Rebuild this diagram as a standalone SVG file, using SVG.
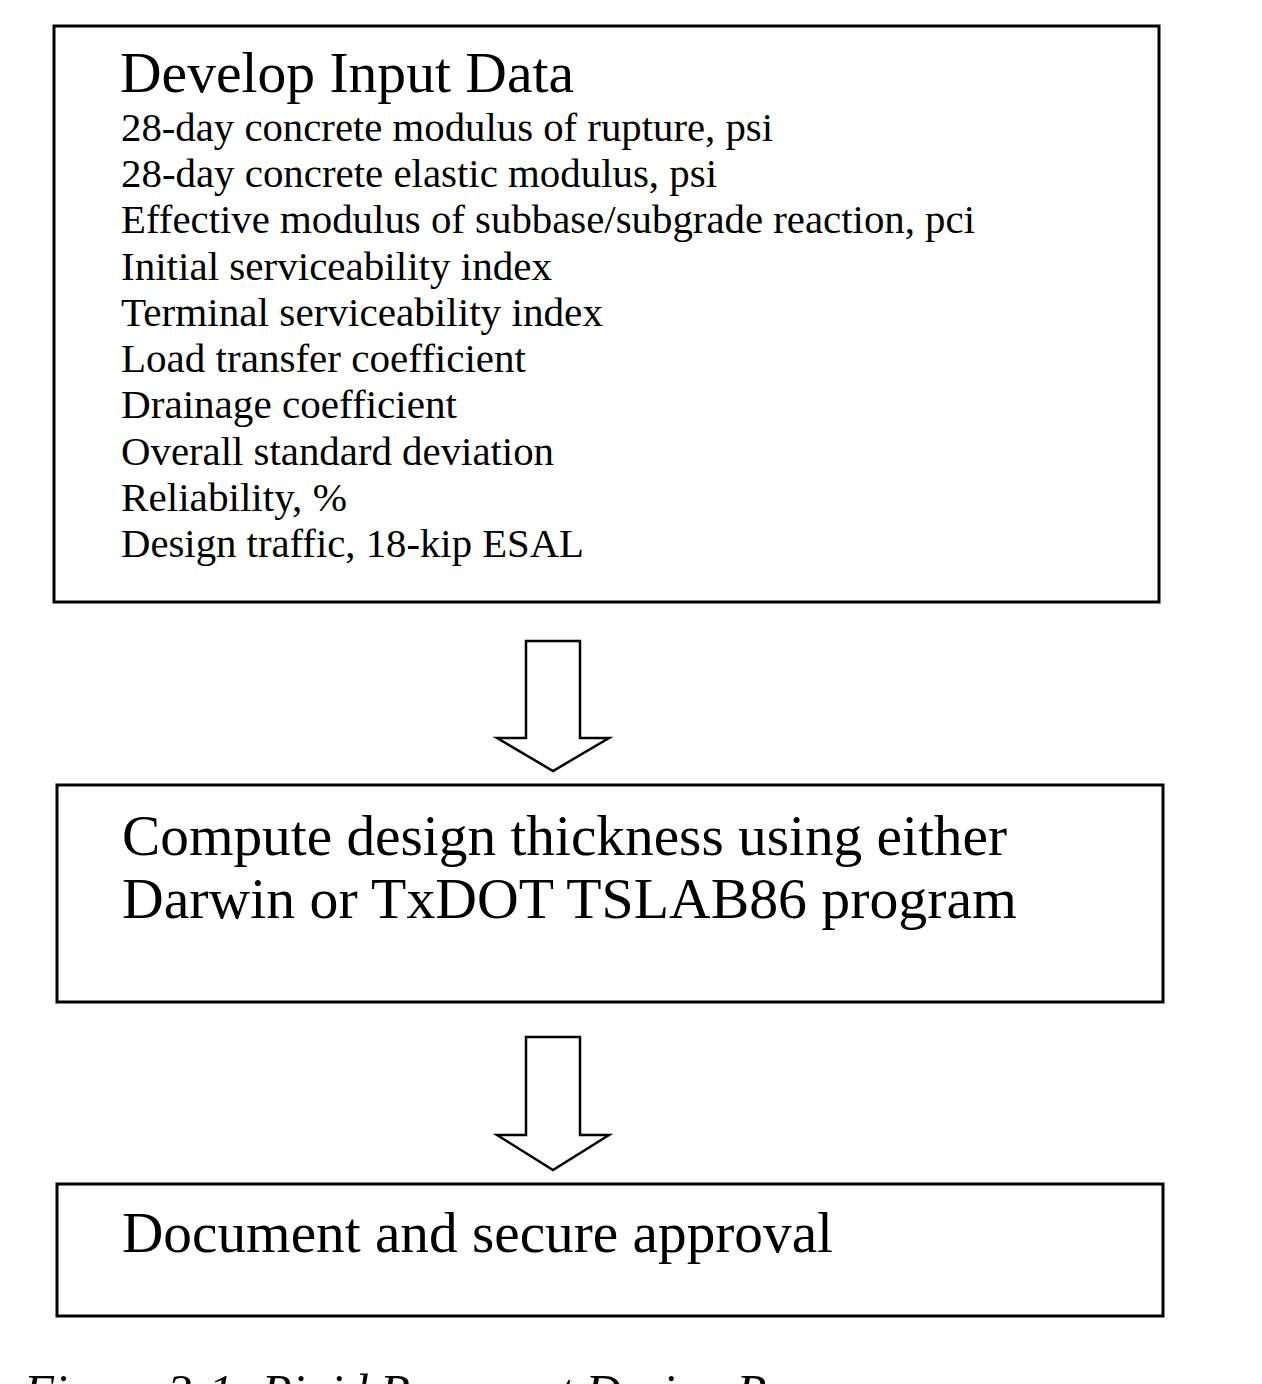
<svg xmlns="http://www.w3.org/2000/svg" width="1262" height="1384" viewBox="0 0 1262 1384">
<style>
.box{fill:#fff;stroke:#000;stroke-width:3}
.arrow{fill:#fff;stroke:#000;stroke-width:2.5;stroke-linejoin:miter}
.t{font-family:"Liberation Serif","Times New Roman",serif;fill:#000}
.title{font-size:57px}
.item{font-size:40px}
.big{font-size:57px}
.cap{font-size:49px;font-style:italic}
</style>
<rect width="1262" height="1384" fill="#fff"/>
<g id="input">
<rect class="box" x="54" y="26" width="1105" height="576"/>
<text class="t title" x="120" y="92" textLength="454" lengthAdjust="spacingAndGlyphs">Develop Input Data</text>
<text class="t item" x="121" y="141" textLength="652" lengthAdjust="spacingAndGlyphs">28-day concrete modulus of rupture, psi</text>
<text class="t item" x="121" y="187" textLength="596" lengthAdjust="spacingAndGlyphs">28-day concrete elastic modulus, psi</text>
<text class="t item" x="121" y="233" textLength="854" lengthAdjust="spacingAndGlyphs">Effective modulus of subbase/subgrade reaction, pci</text>
<text class="t item" x="121" y="280" textLength="431" lengthAdjust="spacingAndGlyphs">Initial serviceability index</text>
<text class="t item" x="121" y="326" textLength="482" lengthAdjust="spacingAndGlyphs">Terminal serviceability index</text>
<text class="t item" x="121" y="372" textLength="405" lengthAdjust="spacingAndGlyphs">Load transfer coefficient</text>
<text class="t item" x="121" y="418" textLength="336" lengthAdjust="spacingAndGlyphs">Drainage coefficient</text>
<text class="t item" x="121" y="465" textLength="433" lengthAdjust="spacingAndGlyphs">Overall standard deviation</text>
<text class="t item" x="121" y="511" textLength="226" lengthAdjust="spacingAndGlyphs">Reliability, %</text>
<text class="t item" x="121" y="557" textLength="463" lengthAdjust="spacingAndGlyphs">Design traffic, 18-kip ESAL</text>
</g>
<g id="connectors">
<polygon class="arrow" points="526,641 580,641 580,738 609,738 553,771 497,738 526,738"/>
<polygon class="arrow" points="526,1037 580,1037 580,1135 609,1135 553,1170 497,1135 526,1135"/>
</g>
<g id="compute">
<rect class="box" x="57" y="785" width="1106" height="217"/>
<text class="t big" x="122" y="855" textLength="885" lengthAdjust="spacingAndGlyphs">Compute design thickness using either</text>
<text class="t big" x="122" y="918" textLength="895" lengthAdjust="spacingAndGlyphs">Darwin or TxDOT TSLAB86 program</text>
</g>
<g id="document">
<rect class="box" x="57" y="1184" width="1106" height="132"/>
<text class="t big" x="122" y="1252" textLength="711" lengthAdjust="spacingAndGlyphs">Document and secure approval</text>
</g>
<g id="caption">
<text class="t cap" x="24" y="1408">Figure 3-1: Rigid Pavement Design Process</text>
</g>
</svg>
